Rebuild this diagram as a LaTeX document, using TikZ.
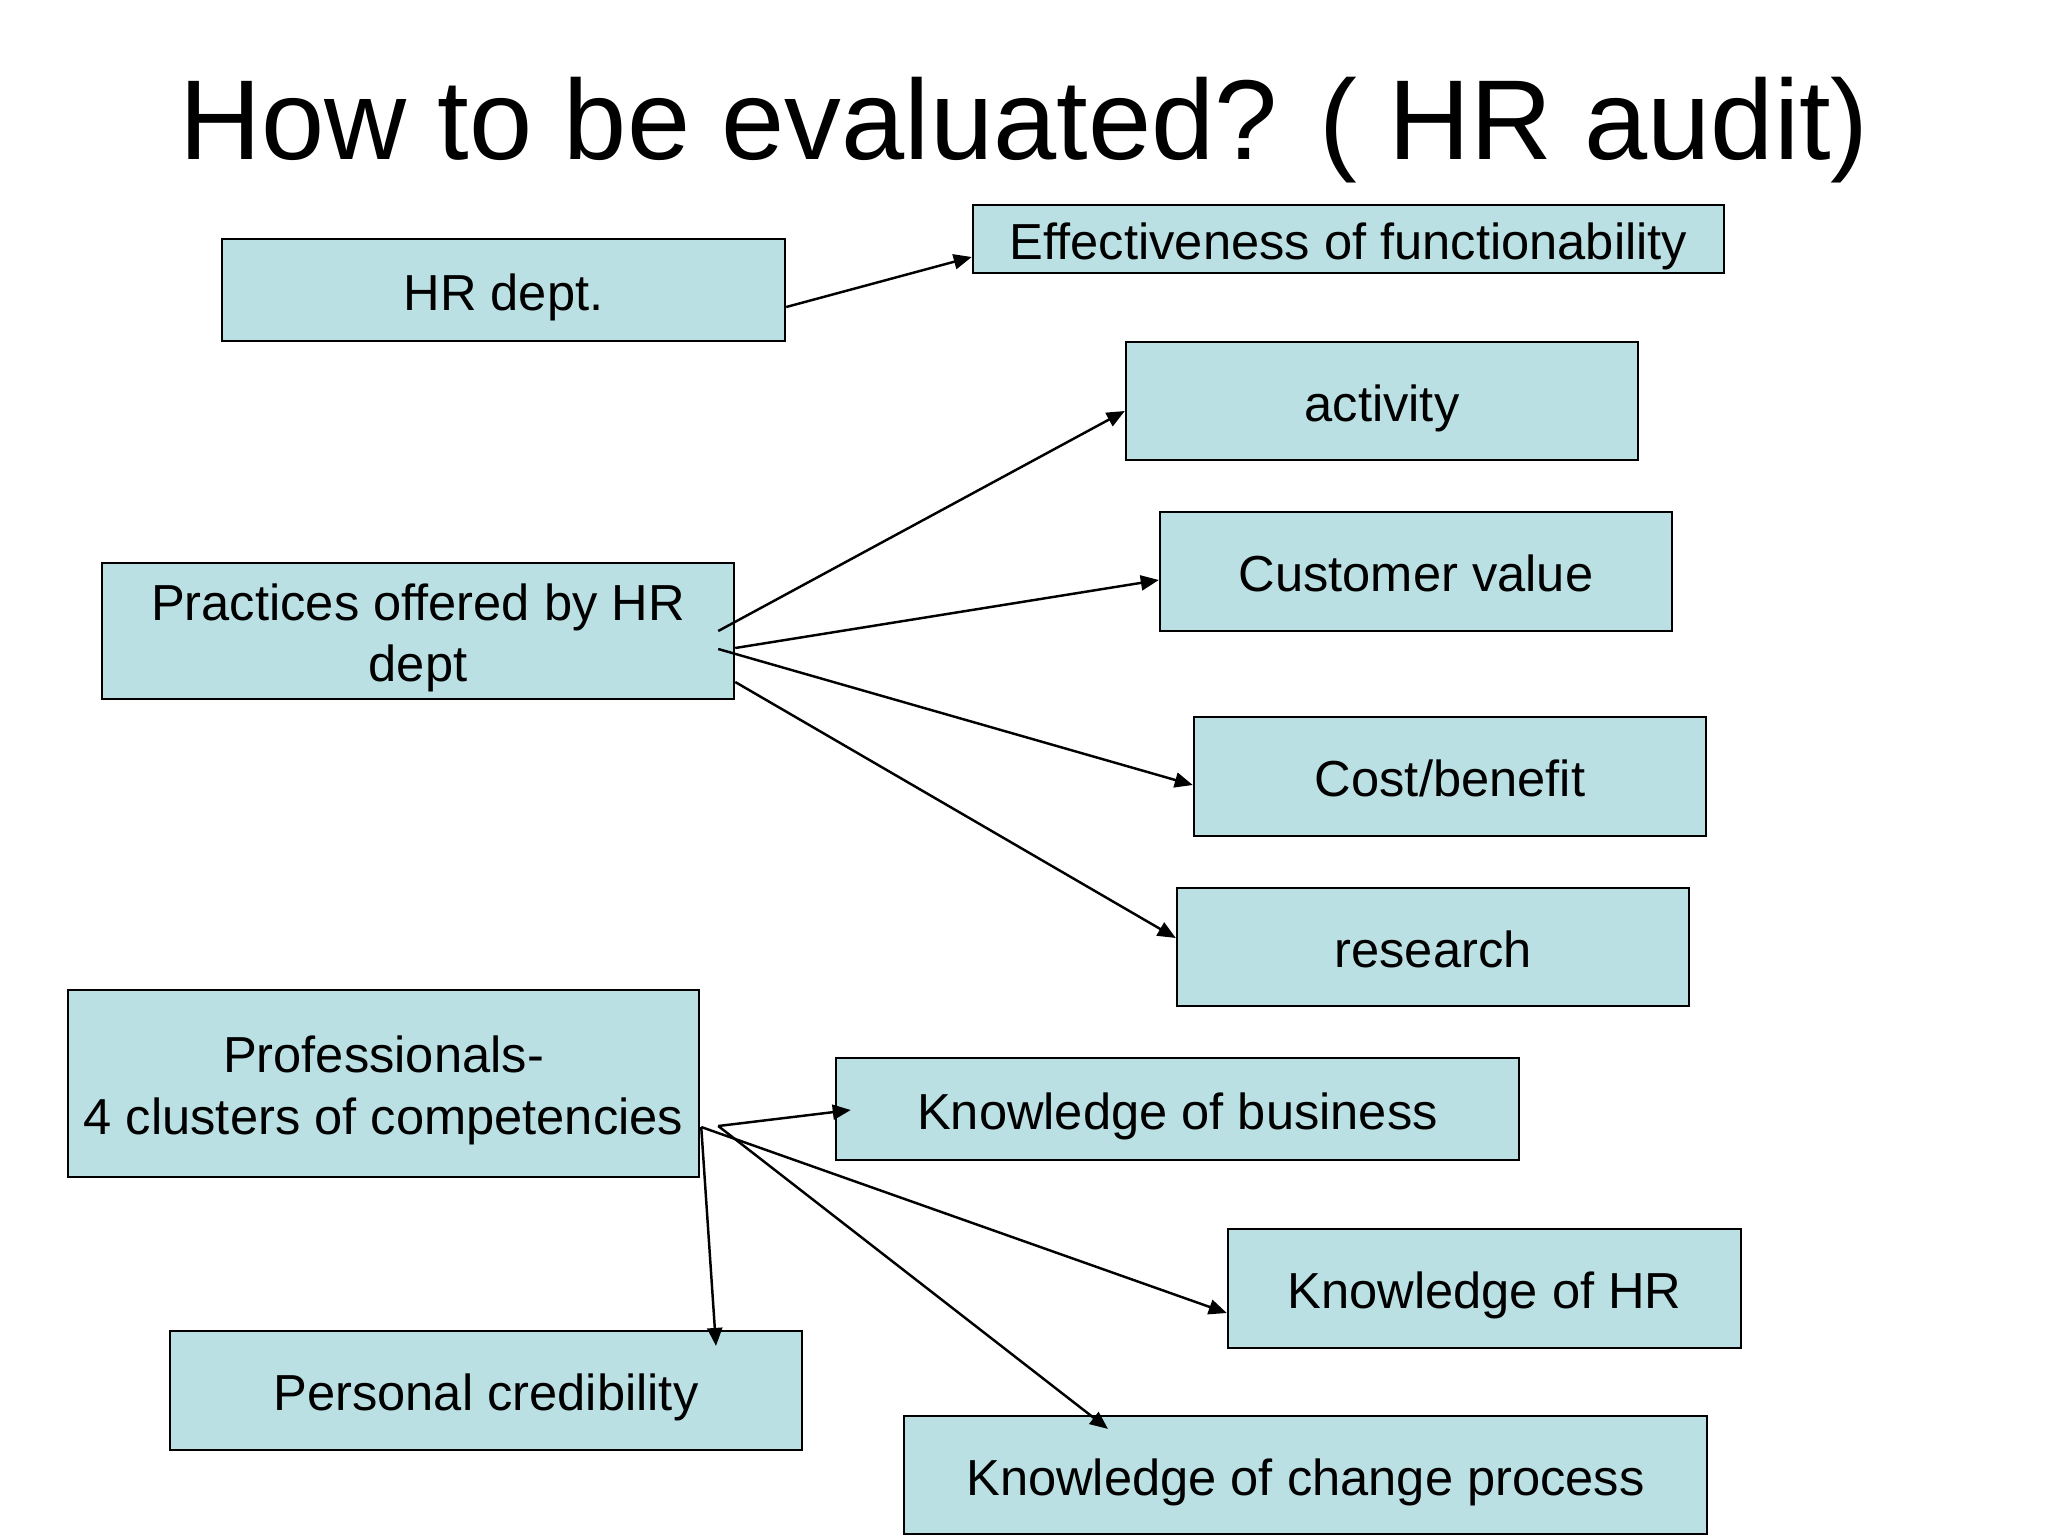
\documentclass[tikz,border=0pt]{standalone}
\usepackage{fontspec}
\setmainfont{Liberation Sans}
\usetikzlibrary{arrows.meta,calc}
\definecolor{boxfill}{HTML}{BBE0E3}
% one text line: fixed height/depth, content lowered a little (as in the slide)
\newcommand\tl[1]{\raisebox{-1.95pt}[10.5pt][3pt]{#1}}
\begin{document}
\begin{tikzpicture}[x=0.01cm,y=-0.01cm,
  bx/.style={draw=black, line width=0.6pt, fill=boxfill, inner sep=0pt, align=center,
    font=\fontsize{14.4}{17.4}\selectfont},
  conn/.style={line width=0.7pt, -{Triangle[length=0.18cm,width=0.15cm]}}]
\useasboundingbox (0,0) rectangle (2048,1536);
\node[anchor=base, inner sep=0pt] (title) at (1024,159) {\fontsize{32.3}{38}\selectfont How to be evaluated? ( HR audit)};
% boxes
\node[bx, minimum width=5.63cm, minimum height=1.02cm] (hr) at (503.5,290) {\tl{HR dept.}};
\node[bx, minimum width=7.51cm, minimum height=0.68cm] (eff) at (1348.5,239) {\tl{Effectiveness of functionability}};
\node[bx, minimum width=5.12cm, minimum height=1.18cm] (act) at (1382,401) {\tl{activity}};
\node[bx, minimum width=5.12cm, minimum height=1.19cm] (cust) at (1416,571.5) {\tl{Customer value}};
\node[bx, minimum width=5.12cm, minimum height=1.19cm] (cost) at (1450,776.5) {\tl{Cost/benefit}};
\node[bx, minimum width=5.12cm, minimum height=1.18cm] (res) at (1433,947) {\tl{research}};
\node[bx, minimum width=6.32cm, minimum height=1.36cm] (prac) at (418,631) {\tl{Practices offered by HR}\\\tl{dept}};
\node[bx, minimum width=6.31cm, minimum height=1.87cm] (prof) at (383.5,1083.5) {\tl{Professionals-}\\\tl{4 clusters of competencies}};
\node[bx, minimum width=6.83cm, minimum height=1.02cm] (bus) at (1177.5,1109) {\tl{Knowledge of business}};
\node[bx, minimum width=5.13cm, minimum height=1.19cm] (khr) at (1484.5,1288.5) {\tl{Knowledge of HR}};
\node[bx, minimum width=6.32cm, minimum height=1.19cm] (pers) at (486,1390.5) {\tl{Personal credibility}};
\node[bx, minimum width=8.03cm, minimum height=1.18cm] (chg) at (1305.5,1475) {\tl{Knowledge of change process}};
% connector end points
\coordinate (hrS) at ($(hr.east)+(0,17)$);
\coordinate (effE) at ($(eff.west)+(0,18)$);
\coordinate (pA) at ($(prac.east)+(-17,0)$);
\coordinate (pB) at ($(prac.east)+(0,17)$);
\coordinate (pC) at ($(prac.east)+(-17,18)$);
\coordinate (pD) at ($(prac.east)+(0,51)$);
\coordinate (actE) at ($(act.west)+(0,10)$);
\coordinate (custE) at ($(cust.west)+(0,8.5)$);
\coordinate (costE) at ($(cost.west)+(0,8.5)$);
\coordinate (resE) at ($(res.west)+(0,-9)$);
\coordinate (qA) at ($(prof.east)+(18,42.5)$);
\coordinate (qB) at ($(prof.east)+(1,43.5)$);
\coordinate (busE) at ($(bus.west)+(16,1)$);
\coordinate (khrE) at ($(khr.west)+(0,24.5)$);
\coordinate (persE) at ($(pers.north)+(230,16)$);
\coordinate (chgE) at ($(chg.north)+(-197.5,14)$);
% connectors
\draw[conn] (hrS) -- (effE);
\draw[conn] (pA) -- (actE);
\draw[conn] (pB) -- (custE);
\draw[conn] (pC) -- (costE);
\draw[conn] (pD) -- (resE);
\draw[conn] (qA) -- (busE);
\draw[conn] (qB) -- (khrE);
\draw[conn] (qB) -- (persE);
\draw[conn] (qA) -- (chgE);
\end{tikzpicture}
\end{document}
